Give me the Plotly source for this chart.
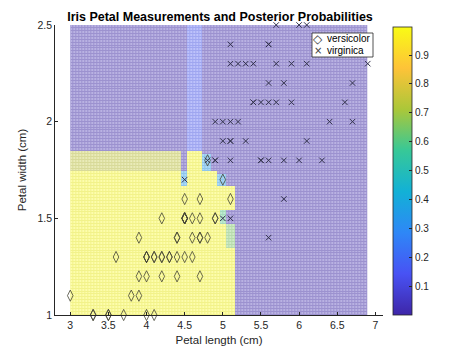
import numpy as np
import plotly.graph_objects as go

# ---------------- data ----------------
versicolor_len = [4.7,4.5,4.9,4.0,4.6,4.5,4.7,3.3,4.6,3.9,3.5,4.2,4.0,4.7,3.6,4.4,4.5,4.1,4.5,3.9,
                  4.8,4.0,4.9,4.7,4.3,4.4,4.8,5.0,4.5,3.5,3.8,3.7,3.9,5.1,4.5,4.5,4.7,4.4,4.1,4.0,
                  4.4,4.6,4.0,3.3,4.2,4.2,4.2,4.3,3.0,4.1]
versicolor_wid = [1.4,1.5,1.5,1.3,1.5,1.3,1.6,1.0,1.3,1.4,1.0,1.5,1.0,1.4,1.3,1.4,1.5,1.0,1.5,1.1,
                  1.8,1.3,1.5,1.2,1.3,1.4,1.4,1.7,1.5,1.0,1.1,1.0,1.2,1.6,1.5,1.6,1.5,1.3,1.3,1.3,
                  1.2,1.4,1.2,1.0,1.3,1.2,1.3,1.3,1.1,1.3]
virginica_len = [6.0,5.1,5.9,5.6,5.8,6.6,4.5,6.3,5.8,6.1,5.1,5.3,5.5,5.0,5.1,5.3,5.5,6.7,6.9,5.0,
                 5.7,4.9,6.7,4.9,5.7,6.0,4.8,4.9,5.6,5.8,6.1,6.4,5.6,5.1,5.6,6.1,5.6,5.5,5.4,5.4,
                 5.6,5.1,5.1,5.9,5.7,5.2,5.0,5.2,5.4,5.1]
virginica_wid = [2.5,1.9,2.1,1.8,2.2,2.1,1.7,1.8,1.8,2.5,2.0,1.9,2.1,2.0,2.4,2.3,1.8,2.2,2.3,1.5,
                 2.3,2.0,2.0,1.8,2.1,1.8,1.8,1.8,2.1,1.6,1.9,2.0,2.2,1.5,1.4,2.3,2.4,1.8,2.1,2.1,
                 2.4,2.3,1.9,2.3,2.5,2.3,1.9,2.0,2.3,1.8]

# posterior probability regions: (x0, x1, y0, y1, P(versicolor))
region_x0 = [3.00, 3.00, 4.54, 4.55, 4.74, 4.44, 4.93, 4.93, 4.96, 5.06, 5.05]
region_x1 = [5.16, 4.44, 4.74, 4.74, 4.87, 4.54, 5.16, 5.06, 5.06, 5.16, 5.16]
region_y0 = [1.00, 1.75, 1.75, 1.85, 1.75, 1.66, 1.66, 1.66, 1.47, 1.47, 1.35]
region_y1 = [1.75, 1.85, 1.85, 2.50, 1.83, 1.75, 1.75, 1.73, 1.54, 1.54, 1.47]
region_p  = [0.99, 0.75, 0.99, 0.15, 0.35, 0.35, 0.01, 0.35, 0.60, 0.01, 0.65]
background_p = 0.01

grid_x = np.linspace(3.0, 6.9, 100)
grid_y = np.linspace(1.0, 2.5, 100)

x_ticks = [3, 3.5, 4, 4.5, 5, 5.5, 6, 6.5, 7]
y_ticks = [1, 1.5, 2, 2.5]
cbar_ticks = [0.1, 0.2, 0.3, 0.4, 0.5, 0.6, 0.7, 0.8, 0.9]
legend_labels = ['versicolor', 'virginica']
legend_symbols = ['\u25C7', '\u00D7']

# ---------------- build grid ----------------
xc = (grid_x[:-1] + grid_x[1:]) / 2
yc = (grid_y[:-1] + grid_y[1:]) / 2
Z = np.full((len(yc), len(xc)), background_p)
XX, YY = np.meshgrid(xc, yc)
for x0, x1, y0, y1, p in zip(region_x0, region_x1, region_y0, region_y1, region_p):
    m = (XX >= x0) & (XX < x1) & (YY >= y0) & (YY < y1)
    Z[m] = p

parula = [(0.2422,0.1504,0.6603),(0.2810,0.3228,0.9579),(0.1786,0.5289,0.9682),
          (0.0689,0.6948,0.8394),(0.2161,0.7843,0.5923),(0.6720,0.7793,0.2227),
          (0.9970,0.7659,0.2199),(0.9769,0.9839,0.0805)]

def scale(alpha, dark=1.0):
    out = []
    n = len(parula)
    for i, c in enumerate(parula):
        rgb = [255 - alpha * (255 - 255 * v) for v in c]
        rgb = [int(round(v * dark)) for v in rgb]
        out.append([i / (n - 1), f"rgb({rgb[0]},{rgb[1]},{rgb[2]})"])
    return out

full_scale = scale(1.0)
face_scale = scale(0.36)
edge_scale = scale(0.48, 0.96)

cmin, cmax = 0.0, 0.997

# page body adds an 8px offset; figure laid out in page pixels minus that offset
OFF = 8
FW, FH = 474 - OFF, 355 - OFF
L, T, W, H = 55 - OFF, 25 - OFF, 328, 290

fig = go.Figure()
fig.add_trace(go.Heatmap(x=grid_x, y=grid_y, z=Z, colorscale=edge_scale, zmin=cmin, zmax=cmax,
                         showscale=False, hoverinfo='skip'))
fig.add_trace(go.Heatmap(x=grid_x, y=grid_y, z=Z, colorscale=face_scale, zmin=cmin, zmax=cmax,
                         showscale=False, xgap=1, ygap=1, hoverinfo='skip'))
fig.add_trace(go.Scatter(x=[None], y=[None], mode='markers', showlegend=False,
                         marker=dict(color=[0.5], colorscale=full_scale, cmin=cmin, cmax=cmax,
                                     showscale=True,
                                     colorbar=dict(x=(393 - 55) / W, xanchor='left', xpad=0,
                                                   y=0, yanchor='bottom', ypad=0,
                                                   len=0.994, lenmode='fraction', thickness=19,
                                                   tickvals=cbar_ticks, ticks='inside', ticklen=3,
                                                   tickcolor='#262626',
                                                   tickfont=dict(size=10, color='#262626'),
                                                   outlinecolor='#262626', outlinewidth=0.8))))
fig.add_trace(go.Scatter(x=versicolor_len, y=versicolor_wid, mode='markers', name='versicolor',
                         cliponaxis=False, showlegend=False,
                         marker=dict(symbol='diamond-tall-open', size=8, color='#454535',
                                     line=dict(width=0.8, color='#454535'))))
fig.add_trace(go.Scatter(x=virginica_len, y=virginica_wid, mode='markers', name='virginica',
                         cliponaxis=False, showlegend=False,
                         marker=dict(symbol='x-thin-open', size=5.5, color='#33334d',
                                     line=dict(width=1, color='#33334d'))))

# manual compact legend box (MATLAB style), positions in page pixels
def px_x(px): return (px - 55) / W
def px_y(py): return (25 + H - py) / H
shapes = [dict(type='rect', xref='paper', yref='paper', x0=px_x(312), x1=px_x(373),
               y0=px_y(57), y1=px_y(33), fillcolor='white', line=dict(color='#262626', width=0.8),
               layer='above')]
annotations = []
row_y = [39, 51]
for lab, sym, ry in zip(legend_labels, legend_symbols, row_y):
    annotations.append(dict(xref='paper', yref='paper', x=px_x(318), y=px_y(ry), text=sym,
                            showarrow=False, xanchor='center', yanchor='middle',
                            font=dict(size=12 if sym == '\u25C7' else 10, color='#3c3c3c',
                                      family='DejaVu Sans')))
    annotations.append(dict(xref='paper', yref='paper', x=px_x(325), y=px_y(ry), text=lab,
                            showarrow=False, xanchor='left', yanchor='middle',
                            font=dict(size=10, color='black')))

axis_common = dict(showgrid=False, zeroline=False, showline=True, linecolor='#262626', linewidth=0.8,
                   ticks='inside', ticklen=3, tickcolor='#262626', mirror=False, automargin=False,
                   tickfont=dict(size=10.5, color='#262626'), layer='above traces')
fig.update_layout(
    width=FW, height=FH,
    margin=dict(l=L, r=FW - L - W, t=T, b=FH - T - H, autoexpand=False),
    paper_bgcolor='white', plot_bgcolor='white',
    font=dict(family='Liberation Sans, Arial, sans-serif', color='#262626'),
    title=dict(text='<b>Iris Petal Measurements and Posterior Probabilities</b>',
               x=(220 - OFF) / FW, xanchor='center', y=1 - (17 - OFF) / FH, yanchor='middle',
               font=dict(size=12.5, color='black')),
    xaxis=dict(range=[2.8, 7.1], tickvals=x_ticks,
               title=dict(text='Petal length (cm)', font=dict(size=11.5, color='#262626'), standoff=6),
               **axis_common),
    yaxis=dict(range=[1, 2.5], tickvals=y_ticks,
               title=dict(text='Petal width (cm)', font=dict(size=11.5, color='#262626'), standoff=8),
               **axis_common),
    shapes=shapes, annotations=annotations,
    showlegend=False,
)

fig.write_html("out.html")
